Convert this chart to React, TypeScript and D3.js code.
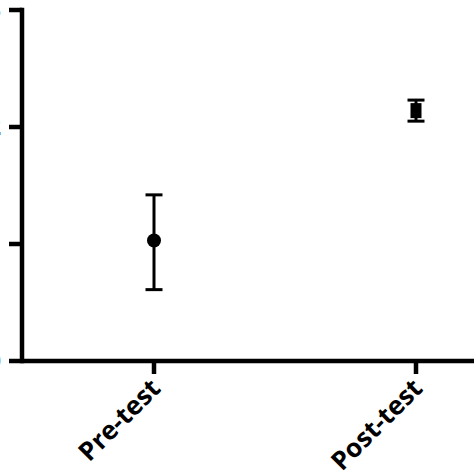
import React from "react";
import * as d3 from "d3";

const categories = ["Pre-test", "Post-test"];
const means = [1.03, 2.14];
const upper = [1.42, 2.23];
const lower = [0.61, 2.05];
const markers = ["circle", "square"];
const yTicks = [0, 1, 2, 3];

export default function App() {
  const W = 474, H = 474;
  const axisX = 22, axisY = 361, top = 10;
  const y = d3.scaleLinear().domain([0, 3]).range([axisY, top]);
  const x = d3.scalePoint<string>().domain(categories).range([154, 416]);
  const sw = 4.5;
  const font = "'Open Sans', 'Noto Sans', sans-serif";
  return (
    <svg width={W} height={H} style={{ position: "absolute", left: 0, top: 0, background: "#fff" }}>
      <line x1={axisX} x2={axisX} y1={y(3) - sw / 2} y2={axisY + sw / 2} stroke="#000" strokeWidth={sw} />
      <line x1={axisX} x2={W} y1={axisY} y2={axisY} stroke="#000" strokeWidth={sw} />
      {yTicks.map((t) => (
        <g key={t}>
          <line x1={9} x2={axisX} y1={y(t)} y2={y(t)} stroke="#000" strokeWidth={sw} />
          <text x={1} y={y(t)} dy="0.35em" textAnchor="end" fontFamily={font} fontWeight={700} fontSize={24} fill="#000">{t}</text>
        </g>
      ))}
      {categories.map((c, i) => {
        const cx = x(c)!;
        return (
          <g key={c}>
            <line x1={cx} x2={cx} y1={axisY} y2={axisY + 13} stroke="#000" strokeWidth={sw} />
            <text
              transform={`translate(${cx + 8},${axisY + 29}) rotate(-45)`}
              textAnchor="end"
              fontFamily={font}
              fontWeight={700}
              fontSize={26}
              fill="#000"
            >{c}</text>
            <line x1={cx} x2={cx} y1={y(upper[i])} y2={y(lower[i])} stroke="#000" strokeWidth={3} />
            <line x1={cx - 8.5} x2={cx + 8.5} y1={y(upper[i])} y2={y(upper[i])} stroke="#000" strokeWidth={3} />
            <line x1={cx - 8.5} x2={cx + 8.5} y1={y(lower[i])} y2={y(lower[i])} stroke="#000" strokeWidth={3} />
            {markers[i] === "circle" ? (
              <circle cx={cx} cy={y(means[i])} r={7} fill="#000" />
            ) : (
              <rect x={cx - 5.5} y={y(means[i]) - 7.5} width={11} height={15} fill="#000" />
            )}
          </g>
        );
      })}
    </svg>
  );
}
